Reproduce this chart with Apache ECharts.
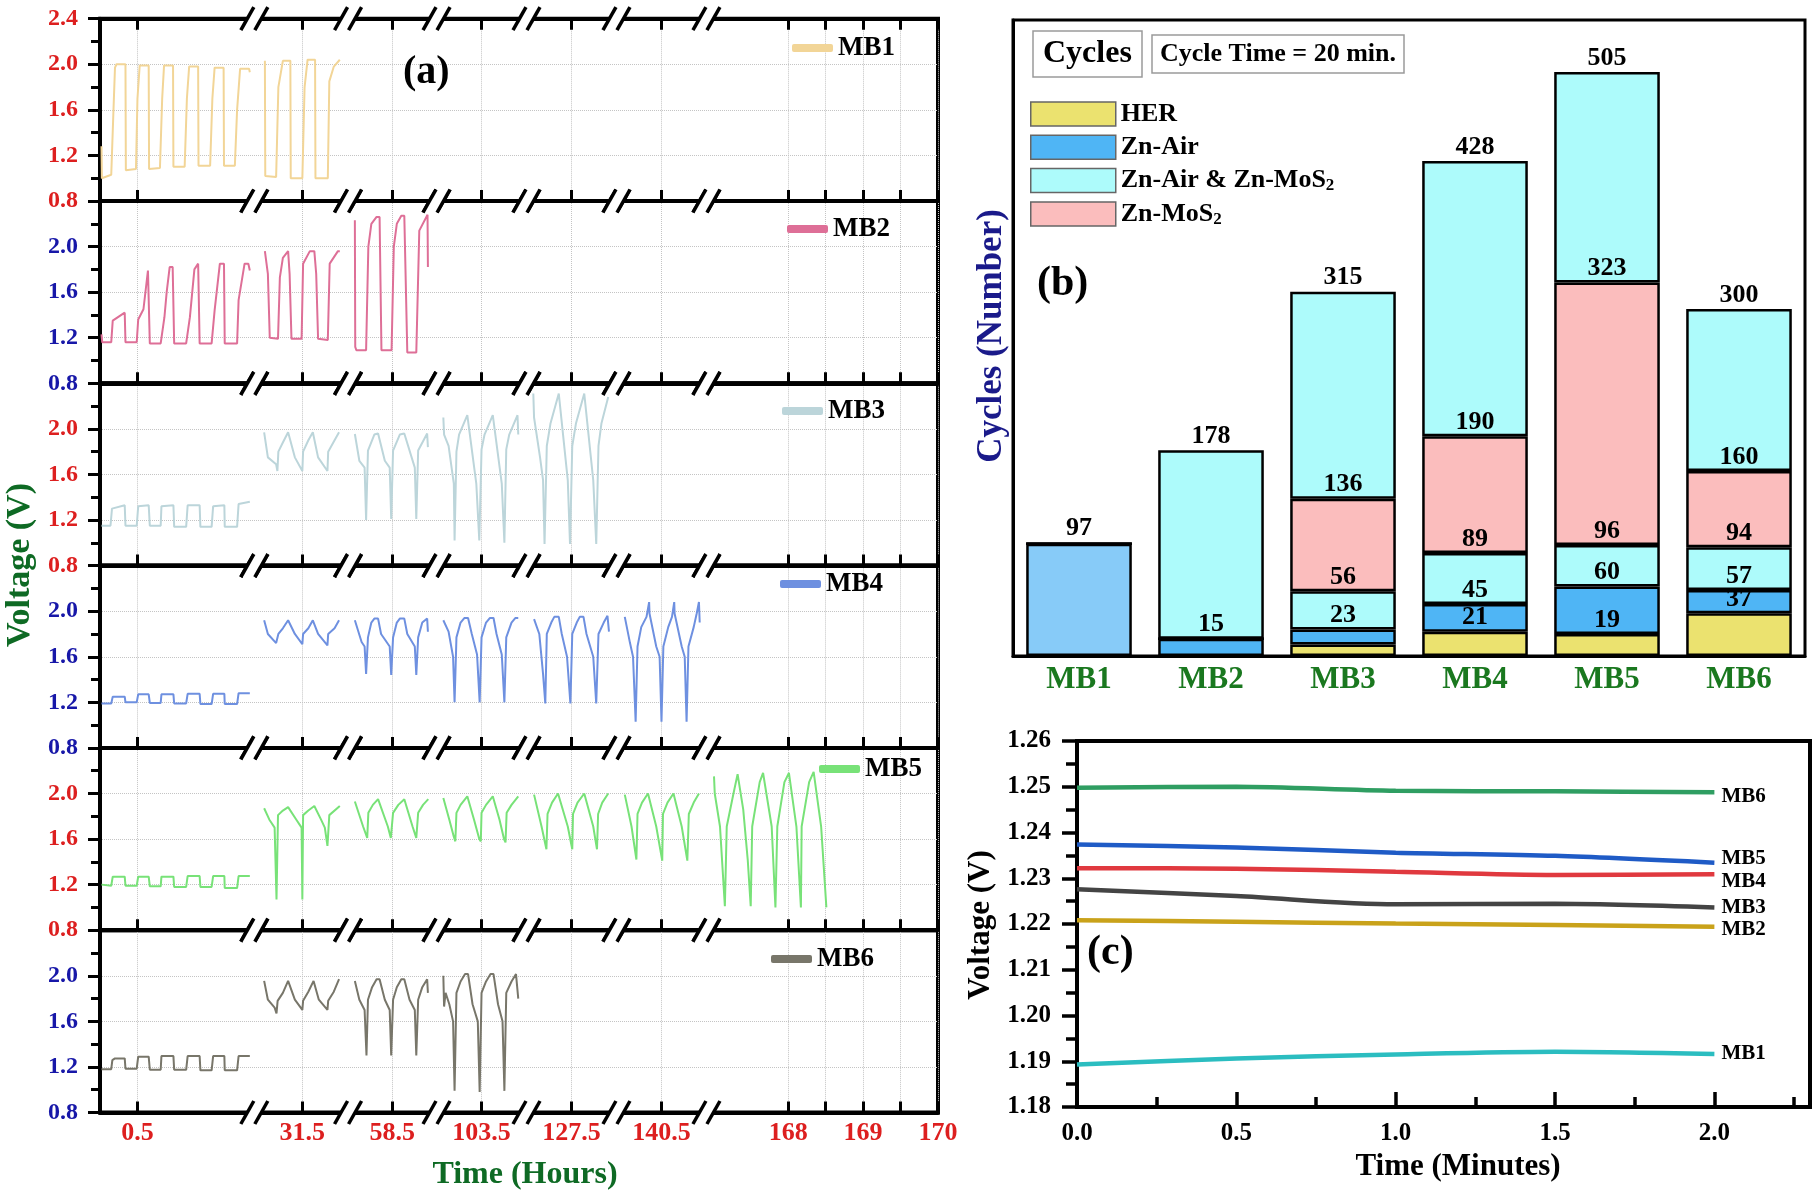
<!DOCTYPE html>
<html>
<head>
<meta charset="utf-8">
<title>MB batteries - cycling, cycles and OCV</title>
<script src="https://cdn.jsdelivr.net/npm/echarts@6/dist/echarts.min.js"></script>
<style>
  html, body { margin: 0; padding: 0; background: #fff; }
  #chart { width: 1816px; height: 1198px; }
</style>
</head>
<body>
<div id="chart"></div>
<script>
const serif = '"Liberation Serif", "Times New Roman", serif';
const red = '#dd1f1f';
const blue = '#1717a8';
const green = '#0e6a24';

// ---- (a) voltage vs time, broken time axis ----
const timeLabels = [0.5, 31.5, 58.5, 103.5, 127.5, 140.5, 168, 169, 170];
const timeTicks = [0.5, 31.5, 58.5, 103.5, 127.5, 140.5, 168, 168.5, 169, 169.5, 170];
const timeBreaks = [[2.06, 30.86], [32.11, 57.91], [59.09, 102.9], [104.1, 126.9], [128.1, 139.9], [141.1, 166.91]];
const voltTicks = [0.8, 2.4];

const mbNames = ['MB1', 'MB2', 'MB3', 'MB4', 'MB5', 'MB6'];
const mbColors = ['#f2d597', '#de6f97', '#bcd5da', '#6e90e0', '#78e278', '#78766a'];

// [hours, volts]
const mb1Cycling = [
  [[0.02,1.28],[0.025,1.0],[0.15,1.03],[0.18,1.6],[0.2,1.97],[0.22,2.0],[0.34,2.0],[0.345,1.07],[0.48,1.08],[0.5,1.7],[0.53,1.99],[0.65,1.99],[0.655,1.08],[0.8,1.09],[0.83,1.7],[0.855,1.99],[0.975,1.99],[0.98,1.1],[1.13,1.1],[1.16,1.7],[1.19,1.98],[1.31,1.98],[1.315,1.11],[1.47,1.11],[1.5,1.7],[1.53,1.97],[1.65,1.97],[1.655,1.11],[1.8,1.11],[1.83,1.6],[1.87,1.96],[1.99,1.96],[2.0,1.93]],
  [[31.0,2.03],[31.005,1.02],[31.15,1.01],[31.18,1.8],[31.24,2.03],[31.34,2.03],[31.345,1.0],[31.5,1.0],[31.53,1.8],[31.57,2.04],[31.67,2.04],[31.675,1.0],[31.84,1.0],[31.86,1.85],[31.92,1.98],[32.0,2.04]]
];
const mb2Cycling = [
  [[0.02,1.23],[0.03,1.16],[0.15,1.16],[0.17,1.35],[0.33,1.42],[0.34,1.16],[0.49,1.16],[0.51,1.36],[0.58,1.45],[0.64,1.79],[0.665,1.15],[0.81,1.15],[0.86,1.38],[0.89,1.6],[0.93,1.82],[0.97,1.82],[0.99,1.15],[1.15,1.15],[1.2,1.38],[1.26,1.8],[1.31,1.85],[1.33,1.15],[1.49,1.15],[1.53,1.44],[1.6,1.85],[1.655,1.85],[1.665,1.15],[1.83,1.15],[1.85,1.53],[1.93,1.85],[1.98,1.85],[2.0,1.79]],
  [[31.0,1.96],[31.04,1.76],[31.065,1.2],[31.175,1.19],[31.2,1.73],[31.24,1.9],[31.31,1.96],[31.33,1.76],[31.355,1.19],[31.49,1.19],[31.51,1.85],[31.6,1.96],[31.66,1.96],[31.685,1.76],[31.71,1.19],[31.84,1.18],[31.865,1.85],[31.975,1.96],[32.0,1.96]],
  [[58.0,2.23],[58.005,1.12],[58.02,1.09],[58.15,1.09],[58.18,2.0],[58.22,2.2],[58.29,2.26],[58.33,2.26],[58.355,1.09],[58.49,1.09],[58.52,2.0],[58.56,2.2],[58.62,2.27],[58.66,2.27],[58.7,1.07],[58.82,1.07],[58.86,2.14],[58.97,2.28],[58.975,1.82]]
];
const mb3Cycling = [
  [[0.02,1.15],[0.14,1.15],[0.16,1.3],[0.33,1.33],[0.34,1.15],[0.49,1.15],[0.51,1.32],[0.65,1.33],[0.665,1.15],[0.81,1.15],[0.82,1.32],[0.98,1.33],[0.99,1.14],[1.15,1.14],[1.17,1.33],[1.33,1.33],[1.34,1.14],[1.49,1.14],[1.51,1.32],[1.66,1.33],[1.665,1.14],[1.83,1.14],[1.85,1.34],[2.0,1.36]],
  [[30.99,1.97],[31.04,1.75],[31.15,1.69],[31.167,1.63],[31.18,1.8],[31.24,1.88],[31.31,1.97],[31.4,1.75],[31.5,1.63],[31.51,1.8],[31.58,1.9],[31.64,1.97],[31.71,1.75],[31.835,1.63],[31.845,1.8],[31.93,1.9],[31.99,1.97]],
  [[58.0,1.955],[58.06,1.72],[58.13,1.66],[58.15,1.2],[58.175,1.81],[58.26,1.95],[58.31,1.96],[58.4,1.72],[58.465,1.66],[58.485,1.21],[58.51,1.81],[58.6,1.95],[58.66,1.96],[58.8,1.66],[58.82,1.21],[58.845,1.81],[58.965,1.96],[58.975,1.84]],
  [[102.99,2.1],[103.0,1.95],[103.06,1.85],[103.13,1.52],[103.14,1.02],[103.165,1.8],[103.2,1.95],[103.31,2.12],[103.43,1.52],[103.47,1.02],[103.5,1.82],[103.54,1.95],[103.65,2.12],[103.77,1.52],[103.805,1.0],[103.83,1.82],[103.87,1.95],[103.98,2.12],[103.99,1.95]],
  [[126.99,2.31],[127.0,2.1],[127.08,1.75],[127.12,1.55],[127.14,0.99],[127.17,1.85],[127.22,2.05],[127.33,2.31],[127.45,1.55],[127.48,0.99],[127.51,1.85],[127.56,2.05],[127.67,2.31],[127.79,1.55],[127.83,0.99],[127.86,1.85],[127.9,2.05],[127.99,2.28]]
];
const mb4Cycling = [
  [[0.02,1.19],[0.15,1.19],[0.17,1.25],[0.33,1.25],[0.34,1.2],[0.49,1.2],[0.51,1.27],[0.65,1.27],[0.665,1.195],[0.81,1.195],[0.82,1.27],[0.98,1.27],[0.99,1.19],[1.15,1.19],[1.17,1.275],[1.33,1.275],[1.34,1.185],[1.49,1.185],[1.51,1.275],[1.66,1.275],[1.665,1.185],[1.83,1.185],[1.85,1.28],[2.0,1.28]],
  [[30.99,1.92],[31.04,1.8],[31.15,1.72],[31.165,1.72],[31.18,1.8],[31.24,1.85],[31.31,1.92],[31.4,1.8],[31.5,1.71],[31.51,1.8],[31.58,1.85],[31.64,1.92],[31.71,1.8],[31.835,1.7],[31.845,1.8],[31.93,1.85],[31.99,1.92]],
  [[58.0,1.92],[58.09,1.73],[58.13,1.69],[58.15,1.45],[58.175,1.77],[58.22,1.9],[58.26,1.935],[58.31,1.935],[58.35,1.8],[58.465,1.69],[58.485,1.44],[58.51,1.77],[58.56,1.9],[58.6,1.935],[58.66,1.935],[58.7,1.8],[58.8,1.69],[58.82,1.44],[58.845,1.77],[58.9,1.9],[58.965,1.935],[58.975,1.82]],
  [[102.99,1.92],[103.06,1.82],[103.12,1.6],[103.14,1.2],[103.165,1.77],[103.22,1.9],[103.27,1.94],[103.32,1.94],[103.37,1.8],[103.44,1.62],[103.475,1.2],[103.5,1.77],[103.56,1.9],[103.61,1.94],[103.66,1.94],[103.7,1.8],[103.77,1.62],[103.805,1.2],[103.83,1.77],[103.9,1.9],[103.95,1.94],[103.99,1.94]],
  [[127.0,1.93],[127.07,1.8],[127.12,1.45],[127.15,1.19],[127.17,1.8],[127.23,1.9],[127.27,1.95],[127.33,1.95],[127.37,1.8],[127.44,1.6],[127.485,1.19],[127.51,1.8],[127.57,1.9],[127.61,1.95],[127.66,1.95],[127.7,1.8],[127.79,1.6],[127.83,1.19],[127.86,1.8],[127.93,1.9],[127.98,1.96],[128.0,1.82]],
  [[140.01,1.95],[140.08,1.72],[140.12,1.6],[140.155,1.03],[140.18,1.69],[140.23,1.86],[140.3,1.95],[140.335,2.08],[140.34,1.98],[140.43,1.69],[140.475,1.6],[140.5,1.03],[140.525,1.69],[140.59,1.86],[140.64,1.95],[140.67,2.08],[140.675,1.98],[140.77,1.69],[140.81,1.6],[140.835,1.03],[140.86,1.69],[140.93,1.86],[140.97,1.98],[141.0,2.08],[141.01,1.9]]
];
const mb5Cycling = [
  [[0.02,1.2],[0.03,1.19],[0.15,1.19],[0.17,1.27],[0.33,1.27],[0.34,1.19],[0.49,1.19],[0.51,1.27],[0.65,1.27],[0.665,1.185],[0.81,1.185],[0.82,1.27],[0.98,1.27],[0.99,1.18],[1.15,1.18],[1.17,1.275],[1.33,1.275],[1.34,1.18],[1.49,1.18],[1.51,1.275],[1.66,1.275],[1.665,1.17],[1.83,1.17],[1.85,1.275],[2.0,1.275]],
  [[30.99,1.87],[31.06,1.77],[31.13,1.7],[31.155,1.07],[31.175,1.81],[31.24,1.85],[31.31,1.88],[31.42,1.77],[31.49,1.7],[31.5,1.07],[31.51,1.81],[31.58,1.85],[31.66,1.89],[31.75,1.77],[31.8,1.7],[31.835,1.54],[31.86,1.81],[32.0,1.89]],
  [[58.0,1.93],[58.11,1.71],[58.165,1.61],[58.18,1.83],[58.24,1.9],[58.31,1.95],[58.44,1.71],[58.48,1.61],[58.51,1.83],[58.58,1.9],[58.66,1.95],[58.77,1.71],[58.82,1.61],[58.845,1.83],[58.91,1.9],[58.98,1.95]],
  [[102.99,1.96],[103.07,1.77],[103.13,1.62],[103.15,1.58],[103.165,1.83],[103.22,1.9],[103.31,1.975],[103.4,1.77],[103.47,1.6],[103.49,1.58],[103.5,1.83],[103.56,1.9],[103.65,1.975],[103.74,1.77],[103.8,1.6],[103.82,1.57],[103.835,1.83],[103.9,1.9],[103.99,1.975]],
  [[127.0,1.99],[127.1,1.71],[127.165,1.51],[127.18,1.82],[127.24,1.92],[127.32,2.0],[127.45,1.71],[127.51,1.51],[127.52,1.82],[127.58,1.92],[127.67,2.0],[127.79,1.71],[127.84,1.51],[127.855,1.82],[127.91,1.92],[127.99,2.0]],
  [[140.01,1.99],[140.1,1.71],[140.165,1.42],[140.18,1.82],[140.24,1.92],[140.32,2.0],[140.43,1.71],[140.51,1.41],[140.52,1.82],[140.58,1.92],[140.66,2.0],[140.77,1.71],[140.845,1.41],[140.865,1.82],[140.93,1.92],[141.0,2.0]],
  [[167.01,2.15],[167.02,2.0],[167.09,1.71],[167.155,1.01],[167.18,1.71],[167.27,2.0],[167.325,2.17],[167.4,1.86],[167.46,1.42],[167.5,1.01],[167.52,1.71],[167.62,2.1],[167.665,2.18],[167.78,1.71],[167.83,1.0],[167.855,1.71],[167.95,2.1],[168.01,2.18],[168.11,1.71],[168.17,1.0],[168.18,1.71],[168.28,2.1],[168.34,2.19],[168.44,1.71],[168.51,1.0]]
];
const mb6Cycling = [
  [[0.02,1.18],[0.15,1.18],[0.165,1.26],[0.2,1.275],[0.33,1.275],[0.34,1.185],[0.49,1.185],[0.51,1.29],[0.65,1.29],[0.665,1.175],[0.81,1.175],[0.82,1.295],[0.98,1.295],[0.99,1.175],[1.15,1.175],[1.17,1.295],[1.33,1.295],[1.34,1.17],[1.49,1.17],[1.51,1.295],[1.66,1.295],[1.665,1.17],[1.83,1.17],[1.85,1.295],[2.0,1.295]],
  [[30.99,1.955],[31.04,1.79],[31.13,1.72],[31.155,1.67],[31.17,1.78],[31.24,1.85],[31.31,1.955],[31.4,1.79],[31.5,1.7],[31.51,1.78],[31.58,1.86],[31.65,1.955],[31.72,1.79],[31.835,1.7],[31.845,1.78],[31.92,1.86],[31.99,1.97]],
  [[58.0,1.955],[58.06,1.79],[58.13,1.7],[58.155,1.3],[58.175,1.79],[58.23,1.9],[58.29,1.97],[58.33,1.97],[58.4,1.79],[58.465,1.7],[58.485,1.3],[58.51,1.79],[58.56,1.9],[58.62,1.97],[58.66,1.97],[58.73,1.79],[58.8,1.7],[58.82,1.3],[58.845,1.79],[58.9,1.9],[58.965,1.97],[58.975,1.85]],
  [[102.99,2.0],[103.0,1.73],[103.02,1.85],[103.07,1.75],[103.12,1.6],[103.14,0.99],[103.165,1.85],[103.22,1.95],[103.28,2.015],[103.32,2.015],[103.38,1.75],[103.45,1.6],[103.475,0.98],[103.5,1.85],[103.56,1.95],[103.62,2.015],[103.66,2.015],[103.72,1.75],[103.78,1.6],[103.805,0.99],[103.83,1.85],[103.9,1.95],[103.96,2.015],[103.99,1.8]]
];
const allCycling = [mb1Cycling, mb2Cycling, mb3Cycling, mb4Cycling, mb5Cycling, mb6Cycling];

// ---- (b) cycles per battery, cumulative boundaries as printed ----
const barCats = ['MB1', 'MB2', 'MB3', 'MB4', 'MB5', 'MB6'];
const herTop = [0, 0, 10, 21, 19, 37];
const airTop = [97, 15, 23, 45, 60, 57];
const mixTop = [97, 15, 56, 89, 96, 94];
const mosTop = [97, 15, 136, 190, 323, 160];
const cycleTotals = [97, 178, 315, 428, 505, 300];
const herPrinted = [null, null, null, 21, 19, 37];
const airPrinted = [null, 15, 23, 45, 60, 57];
const mixPrinted = [null, null, 56, 89, 96, 94];
const mosPrinted = [null, null, 136, 190, 323, 160];

// ---- (c) open circuit voltage over 2 minutes ----
const ocvTime = [0, 0.5, 1.0, 1.5, 2.0];
const ocvMB1 = [1.1893, 1.1906, 1.1915, 1.1921, 1.1916];
const ocvMB2 = [1.2208, 1.2205, 1.2201, 1.2198, 1.2194];
const ocvMB3 = [1.2276, 1.2261, 1.2243, 1.2244, 1.2236];
const ocvMB4 = [1.2322, 1.2321, 1.2314, 1.2307, 1.2309];
const ocvMB5 = [1.2374, 1.2367, 1.2356, 1.2349, 1.2334];
const ocvMB6 = [1.2498, 1.2500, 1.2491, 1.2490, 1.2488];

// layout
const panelTop = 18.7, panelH = 182.3;
const legendPos = [[792, 34], [787, 215], [782, 397], [780, 570], [819, 755], [771, 945]];

function joinSegments(segs) {
  const out = [];
  segs.forEach((seg, i) => {
    if (i > 0) out.push([seg[0][0], null]);
    seg.forEach(p => out.push(p));
  });
  return out;
}

function breakMark(x, y) {
  const dx = 6.5, dy = 11.5, half = 7;
  return [
    { type: 'polygon', shape: { points: [[x - half - dx, y + dy], [x - half + dx, y - dy], [x + half + dx, y - dy], [x + half - dx, y + dy]] }, style: { fill: '#fff' } },
    { type: 'line', shape: { x1: x - half - dx, y1: y + dy, x2: x - half + dx, y2: y - dy }, style: { stroke: '#000', lineWidth: 3.5 } },
    { type: 'line', shape: { x1: x + half - dx, y1: y + dy, x2: x + half + dx, y2: y - dy }, style: { stroke: '#000', lineWidth: 3.5 } }
  ];
}

const txt = (size, color) => ({ fontFamily: serif, fontWeight: 'bold', fontSize: size, color: color || '#000' });

const grids = [], xAxes = [], yAxes = [], series = [];
const breakCfg = timeBreaks.map(([s, e]) => ({ start: s, end: e, gap: 0.001 }));

function timeAxis(k, pos) {
  return {
    type: 'value', gridIndex: k, position: pos, min: 0, max: 170,
    breaks: breakCfg, breakArea: { show: false },
    axisLine: { show: true, onZero: false, lineStyle: { color: '#000', width: 4 } },
    axisTick: { show: true, inside: true, length: 11, customValues: timeTicks, lineStyle: { color: '#000', width: 3 } },
    axisLabel: { show: pos === 'bottom' && k === 5, customValues: timeLabels, margin: 8, formatter: v => String(v), ...txt(26, red) },
    splitLine: { show: pos === 'bottom', lineStyle: { color: '#c4c4c4', type: 'dotted', width: 1 } }
  };
}

for (let k = 0; k < 6; k++) {
  grids.push({ left: 100, top: panelTop + k * panelH, width: 838, height: panelH, show: true, borderColor: '#000', borderWidth: 4, containLabel: false, outerBoundsMode: 'none' });
  xAxes.push(timeAxis(k, 'bottom'));
  yAxes.push({
    type: 'value', gridIndex: k, min: voltTicks[0], max: voltTicks[1], interval: 0.4,
    axisLine: { show: true, lineStyle: { color: '#000', width: 4 } },
    axisTick: { show: true, inside: false, length: 12, lineStyle: { color: '#000', width: 3 } },
    minorTick: { show: true, splitNumber: 2, length: 9, lineStyle: { color: '#000', width: 3 } },
    axisLabel: { margin: 22, showMaxLabel: k === 0, formatter: v => v.toFixed(1), ...txt(24, k % 2 ? blue : red) },
    splitLine: { show: true, lineStyle: { color: '#c4c4c4', type: 'dotted', width: 1 } }
  });
}
xAxes.push(timeAxis(0, 'top'));

for (let k = 0; k < 6; k++) {
  series.push({
    name: mbNames[k], type: 'line', xAxisIndex: k, yAxisIndex: k,
    data: joinSegments(allCycling[k]), showSymbol: false, connectNulls: false,
    lineStyle: { color: mbColors[k], width: 2 }, itemStyle: { color: mbColors[k] }, z: 3
  });
  series.push({
    type: 'custom', xAxisIndex: k, yAxisIndex: k, clip: false, silent: true, z: 6,
    data: timeBreaks.map(b => [b[0], voltTicks[0], voltTicks[1]]),
    renderItem: (params, api) => {
      const lo = api.coord([api.value(0), api.value(1)]);
      const hi = api.coord([api.value(0), api.value(2)]);
      return { type: 'group', children: breakMark(lo[0], lo[1]).concat(breakMark(hi[0], hi[1])) };
    }
  });
}

// (b)
grids.push({ left: 1013, top: 20, width: 792, height: 636, show: true, borderColor: '#000', borderWidth: 3, containLabel: false, outerBoundsMode: 'none' });
xAxes.push({
  type: 'category', gridIndex: 6, data: barCats,
  axisLine: { lineStyle: { color: '#000', width: 3 } }, axisTick: { show: false },
  axisLabel: { margin: 8, ...txt(31, '#1a781f') }
});
yAxes.push({
  type: 'value', gridIndex: 6, min: 0, max: 550,
  axisLine: { show: true, lineStyle: { color: '#000', width: 3 } },
  axisTick: { show: false }, axisLabel: { show: false }, splitLine: { show: false }
});

const diff = (a, b) => a.map((v, i) => v - b[i]);
function stackPart(name, values, printed, color) {
  return {
    name, type: 'bar', stack: 'cycles', xAxisIndex: 7, yAxisIndex: 6, barWidth: '80%',
    itemStyle: { color, borderColor: '#000', borderWidth: 2.5 },
    label: { position: 'top', distance: 1, ...txt(26) },
    data: values.map((v, i) => {
      const item = { value: v, label: { show: printed[i] != null, formatter: String(printed[i]) } };
      if (name === 'Zn-Air' && i === 0) item.itemStyle = { color: '#87cbf8' };
      return item;
    })
  };
}
series.push(stackPart('HER', herTop, herPrinted, '#ebe26f'));
series.push(stackPart('Zn-Air', diff(airTop, herTop), airPrinted, '#4fb5f5'));
series.push(stackPart('Zn-Air & Zn-MoS2', diff(mixTop, airTop), mixPrinted, '#adfbfb'));
series.push(stackPart('Zn-MoS2', diff(mosTop, mixTop), mosPrinted, '#fbbdbd'));
series.push(stackPart('Zn-Air & Zn-MoS2', diff(cycleTotals, mosTop), cycleTotals, '#adfbfb'));

// (c)
grids.push({ left: 1077, top: 741, width: 733, height: 366, show: true, borderColor: '#000', borderWidth: 4, containLabel: false, outerBoundsMode: 'none' });
xAxes.push({
  type: 'value', gridIndex: 7, min: 0, max: 2.3, interval: 0.5,
  axisLine: { show: true, onZero: false, lineStyle: { color: '#000', width: 4 } },
  axisTick: { show: true, inside: true, length: 15, lineStyle: { color: '#000', width: 3.5 } },
  minorTick: { show: true, splitNumber: 2, length: 10, lineStyle: { color: '#000', width: 3.5 } },
  axisLabel: { margin: 14, showMaxLabel: false, formatter: v => v.toFixed(1), ...txt(25) },
  splitLine: { show: false }
});
yAxes.push({
  type: 'value', gridIndex: 7, min: 1.18, max: 1.26, interval: 0.01,
  axisLine: { show: true, lineStyle: { color: '#000', width: 4 } },
  axisTick: { show: true, inside: false, length: 15, lineStyle: { color: '#000', width: 3.5 } },
  minorTick: { show: true, splitNumber: 2, length: 11, lineStyle: { color: '#000', width: 3.5 } },
  axisLabel: { margin: 26, formatter: v => v.toFixed(2), ...txt(25) },
  splitLine: { show: false }
});

const ocvLines = [
  ['MB6', ocvMB6, '#2f9e62', 4], ['MB5', ocvMB5, '#1f5bc6', -4], ['MB4', ocvMB4, '#e0393f', 7],
  ['MB3', ocvMB3, '#444444', 0], ['MB2', ocvMB2, '#c9a21a', 3], ['MB1', ocvMB1, '#2bbdc0', 0]
];
ocvLines.forEach(([label, vals, color, dy]) => {
  series.push({
    name: label + ' (c)', type: 'line', xAxisIndex: 8, yAxisIndex: 7,
    data: ocvTime.map((t, i) => [t, vals[i]]), smooth: 0.3, showSymbol: false,
    lineStyle: { color, width: 4.5 }, itemStyle: { color },
    endLabel: { show: true, formatter: () => label, distance: 7, offset: [0, dy], ...txt(21) }
  });
});

const legends = mbNames.map((n, k) => ({
  data: [n], left: legendPos[k][0], top: legendPos[k][1], padding: 0, selectedMode: false,
  icon: 'roundRect', itemWidth: 41, itemHeight: 8,
  textStyle: { ...txt(27), lineHeight: 28 }
}));
legends.push({
  data: ['HER', 'Zn-Air', 'Zn-Air & Zn-MoS2', 'Zn-MoS2'], orient: 'vertical',
  left: 1030, top: 100, padding: 0, itemGap: 5.3, selectedMode: false,
  icon: 'rect', itemWidth: 85, itemHeight: 24,
  itemStyle: { borderColor: '#666', borderWidth: 1.5 },
  formatter: name => name.replace(/MoS2/g, 'MoS{sub|2}'),
  textStyle: {
    ...txt(26), lineHeight: 28,
    rich: { sub: { fontFamily: serif, fontWeight: 'bold', fontSize: 17, lineHeight: 17, verticalAlign: 'bottom', color: '#000' } }
  }
});

const option = {
  animation: false,
  backgroundColor: '#fff',
  title: [
    { text: '(a)', left: 403, top: 52, padding: 0, textStyle: { ...txt(40), lineHeight: 42 } },
    { text: '(b)', left: 1037, top: 262, padding: 0, textStyle: { ...txt(42), lineHeight: 44 } },
    { text: '(c)', left: 1087, top: 931, padding: 0, textStyle: { ...txt(42), lineHeight: 44 } },
    { text: 'Cycles', left: 1033, top: 31, padding: [5, 10], borderColor: '#9a9a9a', borderWidth: 1.5, textStyle: { ...txt(32), lineHeight: 36 } },
    { text: 'Cycle Time = 20 min.', left: 1152, top: 35, padding: [5, 8], borderColor: '#9a9a9a', borderWidth: 1.5, textStyle: { ...txt(26), lineHeight: 28 } }
  ],
  legend: legends,
  grid: grids,
  xAxis: xAxes,
  yAxis: yAxes,
  series: series,
  graphic: [
    { type: 'text', x: 20, y: 565, rotation: Math.PI / 2, style: { text: 'Voltage (V)', fontFamily: serif, fontWeight: 'bold', fontSize: 34, fill: green, textAlign: 'center', textVerticalAlign: 'middle', align: 'center', verticalAlign: 'middle' } },
    { type: 'text', x: 525, y: 1175, style: { text: 'Time (Hours)', fontFamily: serif, fontWeight: 'bold', fontSize: 32, fill: green, textAlign: 'center', textVerticalAlign: 'middle', align: 'center', verticalAlign: 'middle' } },
    { type: 'text', x: 992, y: 336, rotation: Math.PI / 2, style: { text: 'Cycles (Number)', fontFamily: serif, fontWeight: 'bold', fontSize: 35, fill: '#1a1a8a', textAlign: 'center', textVerticalAlign: 'middle', align: 'center', verticalAlign: 'middle' } },
    { type: 'text', x: 981, y: 925, rotation: Math.PI / 2, style: { text: 'Voltage (V)', fontFamily: serif, fontWeight: 'bold', fontSize: 31, fill: '#000', textAlign: 'center', textVerticalAlign: 'middle', align: 'center', verticalAlign: 'middle' } },
    { type: 'text', x: 1458, y: 1167, style: { text: 'Time (Minutes)', fontFamily: serif, fontWeight: 'bold', fontSize: 31, fill: '#000', textAlign: 'center', textVerticalAlign: 'middle', align: 'center', verticalAlign: 'middle' } }
  ]
};

const chart = echarts.init(document.getElementById('chart'));
chart.setOption(option);
</script>
</body>
</html>
